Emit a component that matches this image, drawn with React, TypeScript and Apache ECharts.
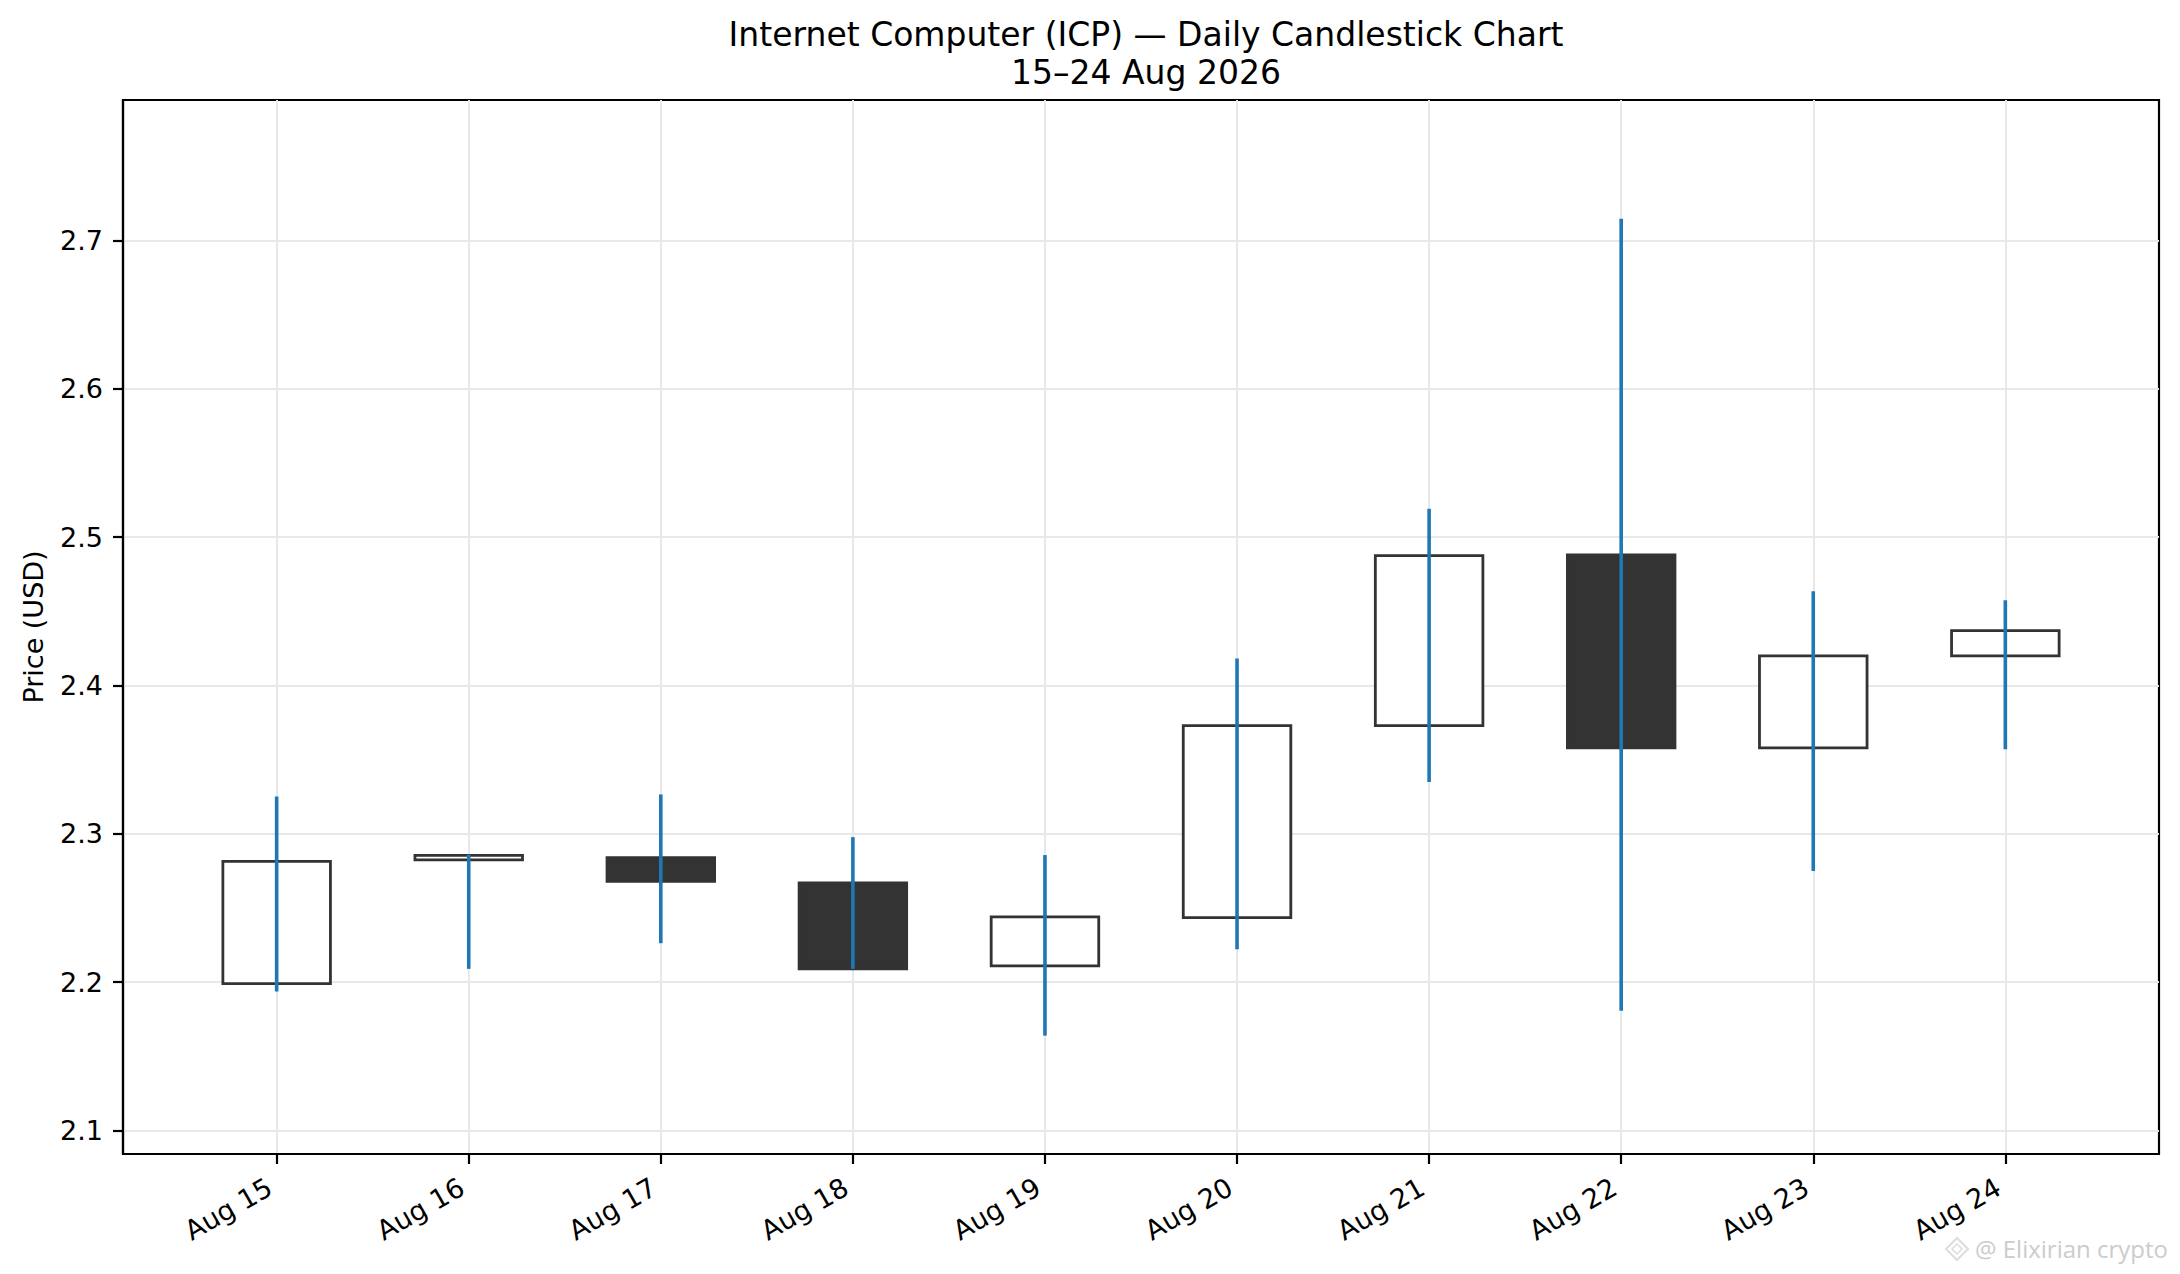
import React, { useEffect, useRef } from "react";
import * as echarts from "echarts";

const dayLabels = ["Aug 15", "Aug 16", "Aug 17", "Aug 18", "Aug 19", "Aug 20", "Aug 21", "Aug 22", "Aug 23", "Aug 24"];
const openValues = [2.199, 2.2825, 2.284, 2.267, 2.211, 2.2435, 2.373, 2.488, 2.358, 2.420];
const closeValues = [2.2815, 2.2855, 2.268, 2.209, 2.244, 2.373, 2.4875, 2.358, 2.420, 2.437];
const lowValues = [2.1937, 2.209, 2.2263, 2.209, 2.164, 2.2223, 2.335, 2.1807, 2.275, 2.357];
const highValues = [2.3252, 2.286, 2.3266, 2.2978, 2.2857, 2.4183, 2.5192, 2.7146, 2.4635, 2.4574];
const priceTicks = [2.1, 2.2, 2.3, 2.4, 2.5, 2.6, 2.7];
const titleLines = ["Internet Computer (ICP) — Daily Candlestick Chart", "15–24 Aug 2026"];

const FONT = "DejaVu Sans";

export default function App() {
  const ref = useRef<HTMLDivElement>(null);

  useEffect(() => {
    document.body.style.margin = "0";
    if (!ref.current) return;
    const chart = echarts.init(ref.current, undefined, { renderer: "svg" });
    const dayIdx = dayLabels.map((_, i) => i);
    const data = dayLabels.map((_, i) => [i, openValues[i], closeValues[i], lowValues[i], highValues[i]]);

    chart.setOption({
      animation: false,
      backgroundColor: "#ffffff",
      textStyle: { fontFamily: FONT },
      title: {
        text: titleLines.join("\n"),
        left: 1141,
        top: 10,
        textAlign: "center",
        textStyle: { fontFamily: FONT, fontSize: 33, fontWeight: "normal", color: "#000", lineHeight: 38 },
      },
      grid: {
        left: 123,
        right: 21,
        top: 100,
        bottom: 120,
        show: true,
        borderColor: "#000",
        borderWidth: 2.2,
        backgroundColor: "transparent",
      },
      xAxis: {
        type: "value",
        min: -0.8,
        max: 9.8,
        axisLine: { show: true, onZero: false, lineStyle: { color: "#000", width: 2.2 } },
        axisTick: { show: true, length: 10, lineStyle: { color: "#000", width: 2.2 }, customValues: dayIdx },
        axisLabel: {
          customValues: dayIdx,
          rotate: 30,
          margin: 27,
          padding: [0, 8, 0, 0],
          fontSize: 27,
          fontFamily: FONT,
          color: "#000",
          formatter: (v: number) => dayLabels[Math.round(v)] ?? "",
        },
        splitLine: { show: true, lineStyle: { color: "#e8e8e8", width: 2 } },
      },
      yAxis: {
        type: "value",
        min: 2.0842,
        max: 2.7947,
        name: "Price (USD)",
        nameLocation: "middle",
        nameGap: 76,
        nameRotate: 90,
        nameTextStyle: { fontFamily: FONT, fontSize: 27, color: "#000" },
        axisLine: { show: true, onZero: false, lineStyle: { color: "#000", width: 2.2 } },
        axisTick: { show: true, length: 10, lineStyle: { color: "#000", width: 2.2 }, customValues: priceTicks },
        axisLabel: {
          customValues: priceTicks,
          margin: 20,
          fontSize: 27,
          fontFamily: FONT,
          color: "#000",
          formatter: (v: number) => v.toFixed(1),
        },
        splitLine: { show: true, lineStyle: { color: "#e8e8e8", width: 2 } },
      },
      series: [
        {
          type: "custom",
          name: "ICP",
          data,
          encode: { x: 0, y: [1, 2, 3, 4] },
          renderItem: (params: any, api: any) => {
            const x = api.value(0);
            const o = api.value(1);
            const c = api.value(2);
            const lo = api.value(3);
            const hi = api.value(4);
            const pO = api.coord([x, o]);
            const pC = api.coord([x, c]);
            const pL = api.coord([x, lo]);
            const pH = api.coord([x, hi]);
            const w = api.size([1, 0])[0] * 0.56;
            const up = c >= o;
            const top = Math.min(pO[1], pC[1]);
            const h = Math.max(Math.abs(pO[1] - pC[1]), 1);
            return {
              type: "group",
              children: [
                {
                  type: "rect",
                  shape: { x: pO[0] - w / 2, y: top, width: w, height: h },
                  style: { fill: up ? "#ffffff" : "#333333", stroke: "#333333", lineWidth: 2.8 },
                },
                {
                  type: "line",
                  shape: { x1: pH[0], y1: pH[1], x2: pL[0], y2: pL[1] },
                  style: { stroke: "#1f77b4", lineWidth: 3.6 },
                },
              ],
            };
          },
        },
      ],
      graphic: [
        {
          type: "polygon",
          shape: { points: [[1957, 1238], [1968, 1249], [1957, 1260], [1946, 1249]] },
          style: { fill: "none", stroke: "#dddddd", lineWidth: 2 },
        },
        {
          type: "polygon",
          shape: { points: [[1957, 1244], [1962, 1249], [1957, 1254], [1952, 1249]] },
          style: { fill: "none", stroke: "#dddddd", lineWidth: 1.5 },
        },
        {
          type: "text",
          right: 12,
          top: 1236,
          style: {
            text: "@ Elixirian crypto",
            fontFamily: "Open Sans",
            fontSize: 24,
            fill: "#cccccc",
          },
        },
      ],
    });

    return () => chart.dispose();
  }, []);

  return <div ref={ref} style={{ width: 2180, height: 1274 }} />;
}
